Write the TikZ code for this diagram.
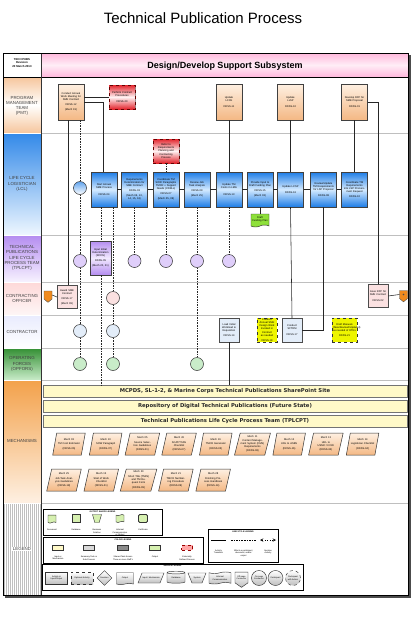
\documentclass[tikz,border=0pt]{standalone}
\usepackage{fontspec}
\setmainfont{Liberation Sans}
\newfontfamily\bannerfont{DejaVu Sans}
\usetikzlibrary{shapes.geometric,shapes.symbols,shadows,calc}
\definecolor{peachL}{HTML}{FEF0E2}
\definecolor{peachD}{HTML}{F4B884}
\definecolor{blueD}{HTML}{1C7CE6}
\definecolor{blueL}{HTML}{D4EAFF}
\definecolor{redD}{HTML}{E3262E}
\definecolor{redL}{HTML}{FFF2F2}
\definecolor{purD}{HTML}{B48CF0}
\definecolor{purL}{HTML}{F2EAFF}
\definecolor{pinkL}{HTML}{FBE1E1}
\definecolor{ltblue}{HTML}{E3EDF9}
\definecolor{yel}{HTML}{EEF500}
\definecolor{grn}{HTML}{8EE03A}
\definecolor{grnL}{HTML}{C9ECC9}
\definecolor{bannerc}{HTML}{FFF9C8}
\definecolor{orng}{HTML}{F08A1E}
\definecolor{hdrpink}{HTML}{FFB8DC}
\definecolor{lgn}{HTML}{D6F0B0}
\begin{document}
\begin{tikzpicture}[x=1pt,y=-1pt,
  tx/.style={font=\fontsize{2.6}{3.1}\selectfont, align=center},
  shad/.style={drop shadow={shadow xshift=0.7pt,shadow yshift=-0.7pt,fill=black,opacity=0.45}},
  pbox/.style={tx, rectangle, draw=black!75, line width=0.45, top color=peachL, bottom color=peachD, minimum width=26, minimum height=36, text width=23, inner sep=0.5, shad},
  bbox/.style={tx, rectangle, draw=black!75, line width=0.45, top color=blueD, bottom color=blueD, middle color=blueL, minimum width=26, minimum height=35, text width=23, inner sep=0.5, shad},
  rbox/.style={tx, rectangle, draw=red!40!black, dashed, line width=0.5, top color=redD, bottom color=redD, middle color=redL, minimum width=26, minimum height=24, text width=23, inner sep=0.5, shad},
  ubox/.style={tx, rectangle, draw=black!75, line width=0.6, top color=purD, bottom color=purD, middle color=purL, minimum width=21, minimum height=34, text width=19, inner sep=0.5, shad},
  cobox/.style={tx, rectangle, draw=black!70, line width=0.45, fill=pinkL, minimum width=20, minimum height=23, text width=18, inner sep=0.5, shad},
  ctbox/.style={tx, rectangle, draw=black!70, line width=0.45, fill=ltblue, minimum width=20, minimum height=24, text width=18, inner sep=0.5, shad},
  ybox/.style={tx, rectangle, draw=black!80, dashed, line width=0.5, fill=yel, minimum width=20, minimum height=24, text width=18, inner sep=0.5},
  circ/.style={circle, draw=black!80, line width=0.5, minimum size=13, inner sep=0},
  conn/.style={draw=black!85, line width=0.55},
  dconn/.style={draw=black!85, line width=0.55, dash pattern=on 1.6pt off 1pt},
  mech/.style={tx, trapezium, trapezium left angle=72, trapezium right angle=108, trapezium stretches body, draw=black!80, line width=0.5, top color=peachL, bottom color=peachD, minimum width=28, minimum height=22, text width=24, inner sep=0.3},
  ban/.style={draw=black!55, line width=0.6, fill=bannerc, minimum width=364, minimum height=12, font=\bannerfont\bfseries\fontsize{5.3}{6}\selectfont, text=black!85},
  lab/.style={font=\fontsize{4.4}{5.1}\selectfont, align=center, text=black!75},
  lg/.style={font=\fontsize{2.1}{2.5}\selectfont, align=center},
  lgt/.style={font=\bfseries\fontsize{2.1}{2.5}\selectfont},
  lgbox/.style={draw=black, line width=0.6},
  gshape/.style={draw=black!80, line width=0.45, top color=white, bottom color=black!25}
]
\useasboundingbox (0,0) rectangle (414,640);
\fill[white] (0,0) rectangle (414,640);

% title
\node[font=\fontsize{15}{18}\selectfont] (title) at (203,18) {Technical Publication Process};

% lane label column
\fill[top color=peachD!80, bottom color=peachD!80, middle color=white] (3,77) rectangle (41,133);
\fill[top color=blueD!90, bottom color=blueL!40] (3,133) rectangle (41,235);
\fill[top color=purD, bottom color=purL!60] (3,235) rectangle (41,282);
\fill[top color=pinkL!70!red!40, bottom color=pinkL!30] (3,282) rectangle (41,315);
\fill[top color=ltblue!80!blue!30, bottom color=white] (3,315) rectangle (41,348);
\fill[top color=green!45!black!80, bottom color=grnL] (3,348) rectangle (41,380);
\fill[top color=orng!80, bottom color=peachL] (3,380) rectangle (41,503);
\foreach \i in {0,...,18} {\fill[black!25] (4+2*\i,503) rectangle (4.8+2*\i,595);}
% header band
\fill[top color=hdrpink, bottom color=hdrpink, middle color=hdrpink!25] (41,53) rectangle (408,77);
% lane separators
\foreach \yy in {133,235,282,315,348,380,503} {\draw[black!25, line width=0.5] (41,\yy) -- (408,\yy);}
\foreach \yy in {133,235,282,315,348,380,503} {\draw[white, line width=0.6] (3,\yy) -- (41,\yy);}
\draw[black, line width=0.8] (3,77) -- (408,77);
\draw[black!80, line width=0.6] (41,53) -- (41,595);
% frame
\draw[black!70, line width=2.2] (410,55) -- (410,596.5) -- (5,596.5);
\draw[black, line width=0.8] (3,53) rectangle (408,595);

\node[font=\bfseries\fontsize{2.8}{3.2}\selectfont, align=center] (rev) at (22,63) {TECH PUBS\\Revision\\20 March 2013};
\node[font=\bfseries\fontsize{9}{10}\selectfont] (hdr) at (225,66) {Design/Develop Support Subsystem};

\node[lab] (lPMT) at (22,106) {PROGRAM\\MANAGEMENT\\TEAM\\(PMT)};
\node[lab] (lLCL) at (22,184) {LIFE CYCLE\\LOGISTICIAN\\(LCL)};
\node[lab] (lTP) at (22,258) {TECHNICAL\\PUBLICATIONS\\LIFE CYCLE\\PROCESS TEAM\\(TPLCPT)};
\node[lab] (lCO) at (22,298.5) {CONTRACTING\\OFFICER};
\node[lab] (lCT) at (22,331.5) {CONTRACTOR};
\node[lab] (lOF) at (22,364) {OPERATING\\FORCES\\(OPFORS)};
\node[lab] (lME) at (22,441) {MECHANISMS};
\node[lab, fill=white, inner sep=0.5] (lLG) at (22,549) {LEGEND};

% helper x positions
\coordinate (vA) at (68,0);
\coordinate (vB) at (80,0);
\coordinate (vC) at (101,0);
\coordinate (vD) at (113,0);
\coordinate (vE) at (103,0);

% PMT
\node[pbox] (conduct) at (71,102) {Conduct Annual Work Meeting for SME Contract\\[2pt]DDSS-12\\[2pt](Mech 19)};
\node[rbox] (redA) at (122,97) {Perform Contract\\Procedures\\[2pt]DDSS-20};
\node[pbox] (lcce) at (229,102) {Update\\LCCE\\[3pt]DDSS-11};
\node[pbox] (llsp) at (290.5,102) {Update\\LLSP\\[3pt]DDSS-10};
\node[pbox] (rfp) at (354.5,102) {Develop RFP for\\SME Proposal\\[3pt]DDSS-01};

% LCL
\node[rbox] (redB) at (166,151) {Refer to\\Requirements\\Planning and\\Contracting\\Process};
\node[bbox] (b1) at (104,189.5) {Start Annual SME Process\\[3pt]DDSS-04};
\node[bbox] (b2) at (134.5,189.5) {Requirements Determination for SME Contract\\[2pt]DDSS-03\\[2pt](Mech 06, 13, 14, 15, 16)};
\node[bbox] (b3) at (166,189.5) {Coordinate TM SOW Paragraphs TMCR + Support Needs (CDRLs)\\[2pt]DDSS-07\\[2pt](Mech 05, 09)};
\node[bbox] (b4) at (197,189.5) {Review Job Task Analysis\\[2pt]DDSS-09\\[2pt](Mech 25)};
\node[bbox] (b5) at (229,189.5) {Update TM Costs in LMIs\\[3pt]DDSS-13};
\node[bbox] (b6) at (260,189.5) {Provide Input to Draft Funding Plan\\[2pt]DDSS-15\\[2pt](Mech 03)};
\node[bbox] (b7) at (290.5,189.5) {Update LCSP\\[3pt]DDSS-16};
\node[bbox] (b8) at (323.5,189.5) {Review/Update TM Requirements for LSP Proposal\\[2pt]DDSS-08};
\node[bbox] (b9) at (354.5,189.5) {Coordinate TM Requirements into LSP Procurement Request\\[2pt]DDSS-10};
\node[tx, tape, tape bend top=none, tape bend height=2pt, draw=black!80, line width=0.45, fill=grn, minimum width=18, minimum height=13, text width=16, inner sep=0.3] (fund) at (260,219.5) {Draft Funding Plan};
\node[circ, top color=blueD!70, bottom color=white] (c1) at (80,188) {};

% TPLCPT
\node[ubox] (pur) at (100.5,258) {Input Initial Determination (RCDS)\\[2pt]DDSS-05\\[2pt](Mech 20, 21)};
\node[circ, fill=purL!70!purD] (t1) at (80,261) {};
\node[circ, fill=purL!70!purD] (t2) at (134.5,261) {};
\node[circ, fill=purL!70!purD] (t3) at (166,261) {};
\node[circ, fill=purL!70!purD] (t4) at (197,261) {};
\node[circ, fill=purL!70!purD] (t5) at (229,261) {};

% Contracting officer
\node[cobox] (award) at (67,297) {Award SME Contract\\[2pt]DDSS-17\\[2pt](Mech 09)};
\node[cobox] (issue) at (378,296) {Issue RFP for SME Contract\\[2pt]DDSS-02};
\node[signal, signal to=south, signal pointer angle=100, draw=black!70, line width=0.4, fill=orng, minimum width=8, minimum height=8, inner sep=0] (offA) at (48,295) {};
\node[signal, signal to=south, signal pointer angle=100, draw=black!70, line width=0.4, fill=orng, minimum width=8, minimum height=8, inner sep=0] (offB) at (403.5,294.5) {};
\fill[black!70] (offB.center) circle (0.9);
\node[circ, fill=pinkL] (k0) at (113,298) {};

% Contractor
\node[circ, fill=ltblue] (k1) at (80,331) {};
\node[circ, fill=ltblue] (k2) at (113,331) {};
\node[ctbox] (load) at (229,330) {Load Initial Workload \& Requisition\\[2pt]DDSS-14};
\node[ybox] (yA) at (267,330) {Conduct Annual SME Design Work Invoked in Contract as needed\\[2pt]DDSS-18};
\node[ctbox] (sftr) at (292,330) {Conduct SFTRM\\[3pt]DDSS-17};
\node[ybox, minimum width=25, text width=23] (yB) at (344.5,330) {Draft Manuals (New/Revised/Updated) as needed of DTRs\\[2pt]DDSS-21};

% Operating forces
\node[circ, fill=grnL] (o1) at (80,364) {};
\node[circ, fill=grnL] (o2) at (113,364) {};
\node[circ, fill=grnL] (o3) at (197,364) {};

% Mechanism banners
\node[ban] (ban1) at (225,391) {MCPDS, SL-1-2, \& Marine Corps Technical Publications SharePoint Site};
\node[ban] (ban2) at (225,406) {Repository of Digital Technical Publications (Future State)};
\node[ban] (ban3) at (225,421) {Technical Publications Life Cycle Process Team (TPLCPT)};

% Mechanism boxes
\node[mech] (m1) at (69,444) {Mech 03\\[1.5pt]TM Cost Estimator\\[1.5pt](DDSS-06)};
\node[mech] (m2) at (105.7,444) {Mech 10\\[1.5pt]SOW Paragraph\\[1.5pt](DDSS-07)};
\node[mech] (m3) at (142.4,444) {Mech 05\\[1.5pt]Source Selection Guidelines\\[1.5pt](DDSS-01)};
\node[mech] (m4) at (179.1,444) {Mech 26\\[1.5pt]SCAT/TSSS Checklist\\[1.5pt](DDSS-07)};
\node[mech] (m5) at (215.8,444) {Mech 16\\[1.5pt]TMCR Generator\\[1.5pt](DDSS-03)};
\node[mech] (m6) at (252.5,444) {Mech 11\\[1pt]Content Management System (CMS) Requirements\\[1pt](DDSS-06)};
\node[mech] (m7) at (289.2,444) {Mech 12\\[1.5pt]URL to ASBS\\[1.5pt](DDSS-16)};
\node[mech] (m8) at (325.9,444) {Mech 13\\[1.5pt]URL to USMC VI DID\\[1.5pt](DDSS-04)};
\node[mech] (m9) at (362.6,444) {Mech 14\\[1.5pt]Logistician Checklist\\[1.5pt](DDSS-04)};
\node[mech] (n1) at (64,480) {Mech 25\\[1.5pt]Job Task Analysis Guidelines\\[1.5pt](DDSS-18)};
\node[mech] (n2) at (101.3,480) {Mech 15\\[1.5pt]Start of Work Checklist\\[1.5pt](DDSS-21)};
\node[mech] (n3) at (138.6,480) {Mech 20\\[1.5pt]Short Title (TMIN) and TM Request Form\\[1.5pt](DDSS-09)};
\node[mech] (n4) at (175.9,480) {Mech 21\\[1.5pt]TMCR Numbering Procedure\\[1.5pt](DDSS-09)};
\node[mech] (n5) at (213.2,480) {Mech 28\\[1.5pt]Finishing Process Handbook\\[1.5pt](DDSS-14)};

% connectors
\draw[conn] (redA.west) -- (redA.west -| conduct.east);
\draw[conn] (conduct.east) -| (b1.north -| vE);
\draw[conn] (conduct.south -| vA) -- (award.north -| vA);
\draw[dconn] (conduct.south -| vB) -- (c1.north);
\draw[dconn] (c1.south) -- (t1.north);
\draw[dconn] (t1.south) -- (k1.north);
\draw[dconn] (k1.south) -- (o1.north);
\draw[conn] (b1.east) -- (b2.west);
\draw[conn] (b2.east) -- (b3.west);
\draw[conn] (b3.east) -- (b4.west);
\draw[conn] (b4.east) -- (b5.west);
\draw[conn] (b5.east) -- (b6.west);
\draw[conn] (b6.east) -- (b7.west);
\draw[conn] (b7.east) -- (b8.west);
\draw[conn] (b8.east) -- (b9.west);
\draw[dconn] (redB.south) -- (b3.north);
\draw[conn] (lcce.south) -- (b5.north);
\draw[conn] (llsp.south) -- (b7.north);
\draw[conn] (rfp.south) -- (b9.north);
\draw[conn] (rfp.east) -| (issue.north);
\draw[conn] (issue.east) -- (offB.west);
\draw[conn] (offA.east) -- (award.west);
\draw[conn] (b6.south) -- (fund.north);
\draw[dconn] (b2.south) -- (t2.north);
\draw[dconn] (b3.south) -- (t3.north);
\draw[dconn] (b4.south) -- (t4.north);
\draw[dconn] (t4.south) -- (o3.north);
\draw[dconn] (b5.south) -- (t5.north);
\draw[dconn] (b1.south -| vD) -- (k0.north);
\draw[dconn] (k0.south) -- (k2.north);
\draw[dconn] (k2.south) -- (o2.north);
\draw[dconn] (b1.south -| vC) -- (pur.north -| vC);
\draw[dconn] (pur.south -| vC) -- (ban1.north -| vC);
\draw[conn] (load.south) -- (ban1.north -| load.south);
\draw[conn] (b7.south) -- (sftr.north);
\draw[conn] (b8.south) |- (sftr.east);

% ---------------- legend
\draw[lgbox] (43,509) rectangle (162,535);
\node[lgt] (tOS) at (102.5,511.3) {OUTPUT SHAPE LEGEND};
\node[tape, tape bend top=none, tape bend height=1.2pt, draw=black!80, line width=0.45, fill=lgn, minimum width=8, minimum height=8, inner sep=0] (os1) at (52,518.5) {};
\node[cylinder, shape border rotate=90, aspect=0.3, draw=black!80, line width=0.45, fill=lgn, minimum width=8, minimum height=8, inner sep=0] (os2) at (76,518.5) {};
\coordinate (os3) at (97,518.5);
\draw[draw=black!80, line width=0.45, fill=lgn] ($(os3)+(-4.5,-4)$) -- ($(os3)+(4.5,-4)$) -- ($(os3)+(2.2,4)$) -- ($(os3)+(-2.2,4)$) -- cycle;
\node[tape, tape bend height=1.2pt, draw=black!80, line width=0.45, fill=lgn, minimum width=8, minimum height=8, inner sep=0] (os4) at (120,518.5) {};
\node[rectangle, draw=black!80, line width=0.9, fill=lgn, rounded corners=1.2pt, minimum width=9, minimum height=8, inner sep=0] (os5) at (143,518.5) {};
\node[lg, anchor=north] at (52,525.5) {Document};
\node[lg, anchor=north] at (76,525.5) {Database};
\node[lg, anchor=north] at (97,525.5) {Business\\Solution};
\node[lg, anchor=north] at (120,525.5) {Informal\\Communication\\or Output};
\node[lg, anchor=north] at (143,525.5) {Certificate};

\draw[lgbox] (43,537) rectangle (203,563);
\node[lgt] (tCL) at (123,539.3) {COLOR LEGEND};
\node[draw=black!80, line width=0.4, fill=bannerc, minimum width=11, minimum height=5, inner sep=0] (cl1) at (58,547.5) {};
\node[draw=black!80, line width=0.4, fill=black!15, minimum width=11, minimum height=5, inner sep=0] (cl2) at (89,547.5) {};
\node[draw=black!80, line width=0.4, fill=black!45, minimum width=11, minimum height=5, inner sep=0] (cl3) at (123,547.5) {};
\node[draw=black!80, line width=0.4, fill=lgn, minimum width=11, minimum height=5, inner sep=0] (cl4) at (155,547.5) {};
\node[draw=red!60!black, dashed, line width=0.4, fill=red!35, minimum width=11, minimum height=5, inner sep=0] (cl5) at (187,547.5) {};
\node[lg, anchor=north] at (58,552.5) {Input or\\Mechanism};
\node[lg, anchor=north] at (89,552.5) {Summary Task or\\Sub-Process};
\node[lg, anchor=north] at (123,552.5) {Shared Task Across\\Three or more Staff's};
\node[lg, anchor=north] at (155,552.5) {Output};
\node[lg, anchor=north] at (187,552.5) {Externally\\Defined Process};

\draw[lgbox] (208,529) rectangle (278,562);
\node[lgt] (tLS) at (243,531.5) {LINE STYLE LEGEND};
\coordinate (ls1a) at (211,540); \coordinate (ls1b) at (226,540);
\coordinate (ls2a) at (231,540); \coordinate (ls2b) at (256,540);
\coordinate (ls3a) at (260,540); \coordinate (ls3b) at (276,540);
\draw[black, line width=0.6] (ls1a) -- (ls1b);
\draw[black, line width=0.6, dash pattern=on 1.6pt off 1pt] (ls2a) -- (ls2b);
\draw[black, line width=0.5, dotted, <->, >=stealth] (ls3a) -- (ls3b);
\node[lg, anchor=north] at (218.5,546) {Activity\\Transition};
\node[lg, anchor=north] at (243.5,546) {Affects a participant,\\document, and/or\\output};
\node[lg, anchor=north] at (268,546) {Iterative\\Activity};

\draw[lgbox] (42,564) rectangle (303,590);
\node[lgt] (tSL) at (172.5,566.2) {SHAPES LEGEND};
\node[lg, gshape, rectangle, minimum width=22, minimum height=12, text width=20, inner sep=0] (s1) at (56.5,578) {Activity \&\\Input/Output};
\node[lg, gshape, rectangle, dashed, minimum width=22, minimum height=12, text width=20, inner sep=0] (s2) at (82,578) {Optional Activity};
\node[lg, gshape, diamond, minimum width=15, minimum height=15, inner sep=0] (s3) at (104.5,578) {Decision};
\node[lg, gshape, tape, tape bend top=none, tape bend height=1.5pt, minimum width=17, minimum height=12, inner sep=0] (s4) at (125,578) {Output};
\coordinate (s5) at (151,578);
\draw[gshape] ($(s5)+(-13,5)$) -- ($(s5)+(9,5)$) -- ($(s5)+(13,-5)$) -- ($(s5)+(-9,-5)$) -- cycle;
\node[lg] (s5t) at (s5) {Input / Mechanism};
\node[lg, gshape, cylinder, shape border rotate=90, aspect=0.3, minimum width=18, minimum height=12, inner sep=0] (s6) at (176,578) {Database};
\coordinate (s7) at (197,578);
\draw[gshape] ($(s7)+(-9,-5)$) -- ($(s7)+(9,-5)$) -- ($(s7)+(5,5)$) -- ($(s7)+(-5,5)$) -- cycle;
\node[lg] (s7t) at (s7) {System};
\node[lg, gshape, tape, tape bend height=1.5pt, minimum width=22, minimum height=12, text width=20, inner sep=0] (s8) at (220,578) {Informal\\Communication};
\node[lg, gshape, signal, signal to=south, signal pointer angle=110, minimum width=13, minimum height=14, inner sep=0] (s9) at (241.5,577.5) {Off-page\\Connector};
\node[lg, gshape, circle, minimum size=15, inner sep=0] (s10) at (259,578) {On-page\\Connector};
\node[lg, gshape, circle, minimum size=15, inner sep=0] (s11) at (275.5,578) {Participant};
\node[lg, gshape, circle, dashed, minimum size=15, inner sep=0] (s12) at (293,578) {Participant\\with Action};
\end{tikzpicture}
\end{document}
